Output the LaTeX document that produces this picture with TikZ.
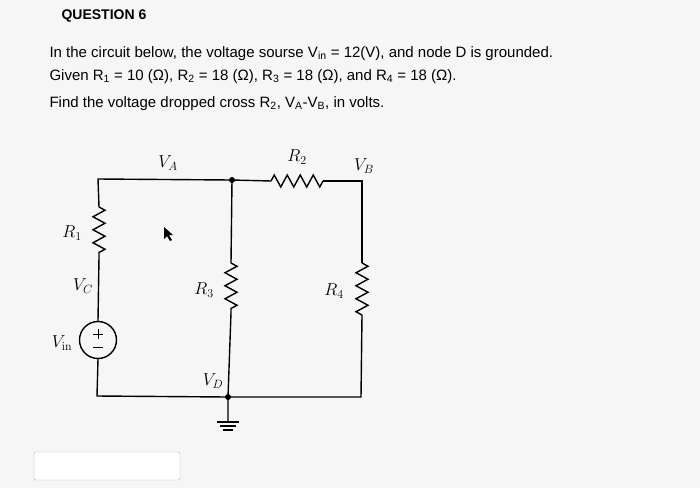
\documentclass[tikz,border=0pt]{standalone}
\usepackage[no-math]{fontspec}
\setmainfont{Liberation Sans}
\usetikzlibrary{decorations.pathmorphing}
\tikzset{
  wire/.style={line width=1.4pt},
  res/.style={line width=1.4pt, decorate, decoration={zigzag, amplitude=6pt, segment length=13pt}},
  lbl/.style={font=\fontsize{17}{20}\selectfont},
  qtext/.style={anchor=base west, font=\fontsize{15}{18}\selectfont}
}
\begin{document}
\begin{tikzpicture}[x=1pt,y=-1pt]

            % the frame
            \fill[gray!7] (0,0) rectangle (700,488);
            \useasboundingbox (0,0) rectangle (700,488);

            % the question
            \node[qtext, font=\bfseries\fontsize{14}{17}\selectfont] (title) at (58,19) {QUESTION 6};
            \node[qtext] (line1) at (46,57) {In the circuit below, the voltage sourse V\textsubscript{in} = 12(V), and node D is grounded.};
            \node[qtext] (line2) at (46,80) {Given R\textsubscript{1} = 10 (Ω), R\textsubscript{2} = 18 (Ω), R\textsubscript{3} = 18 (Ω), and R\textsubscript{4} = 18 (Ω).};
            \node[qtext] (line3) at (46,107) {Find the voltage dropped cross R\textsubscript{2}, V\textsubscript{A}-V\textsubscript{B}, in volts.};

            % the nodes
            \coordinate (tl) at (98,179);
            \coordinate (A) at (232,180);
            \coordinate (r2a) at (271,181);
            \coordinate (r2b) at (323,181);
            \coordinate (B) at (362,181);
            \coordinate (r1a) at (99,207);
            \coordinate (r1b) at (99,257);
            \coordinate (r3a) at (231,263);
            \coordinate (r3b) at (231,313);
            \coordinate (r4a) at (362,263);
            \coordinate (r4b) at (362,315);
            \coordinate (bl) at (97,396);
            \coordinate (D) at (228,397);
            \coordinate (br) at (361,397);
            \coordinate (gnd) at (228,422);
            \node[draw, circle, line width=1.4pt, minimum size=37pt, inner sep=0pt] (src) at (98,340) {};

            % the wires
            \draw[wire] (r1a) -- (tl) -- (A) -- (r2a);
            \draw[wire] (r2b) -- (B) -- (r4a);
            \draw[wire] (r1b) -- (src.north);
            \draw[wire] (src.south) -- (bl) -- (D) -- (br) -- (r4b);
            \draw[wire] (A) -- (r3a);
            \draw[wire] (r3b) -- (D) -- (gnd);
            \draw[res] (r1a) -- (r1b);
            \draw[res] (r2a) -- (r2b);
            \draw[res] (r3a) -- (r3b);
            \draw[res] (r4a) -- (r4b);
            \fill (A) circle (3pt) (D) circle (3pt);

            % the ground
            \draw[wire] (217,422) -- (239,422);
            \draw[wire] (220,426) -- (236,426);
            \draw[wire] (223,430) -- (233,430);

            % the source signs
            \draw[line width=1pt] (93,334) -- (103,334) (98,329) -- (98,339);
            \draw[line width=1pt] (93,347) -- (103,347);

            % the labels
            \node[lbl] at (168,163) {$V_A$};
            \node[lbl] at (297,157) {$R_2$};
            \node[lbl] at (364,166) {$V_B$};
            \node[lbl] at (72,233) {$R_1$};
            \node[lbl] at (83,286) {$V_C$};
            \node[lbl] at (204,290) {$R_3$};
            \node[lbl] at (334,291) {$R_4$};
            \node[lbl] at (62,343) {$V_\mathrm{in}$};
            \node[lbl] at (213,381) {$V_D$};

            % the cursor
            \fill (164,227) -- (164,239) -- (167,236) -- (170,241) -- (172,240) -- (169,235) -- (173,235) -- cycle;

            % the answer box
            \draw[gray!60, fill=white, rounded corners=2pt] (34,452) rectangle (180,480);
\end{tikzpicture}
\end{document}
